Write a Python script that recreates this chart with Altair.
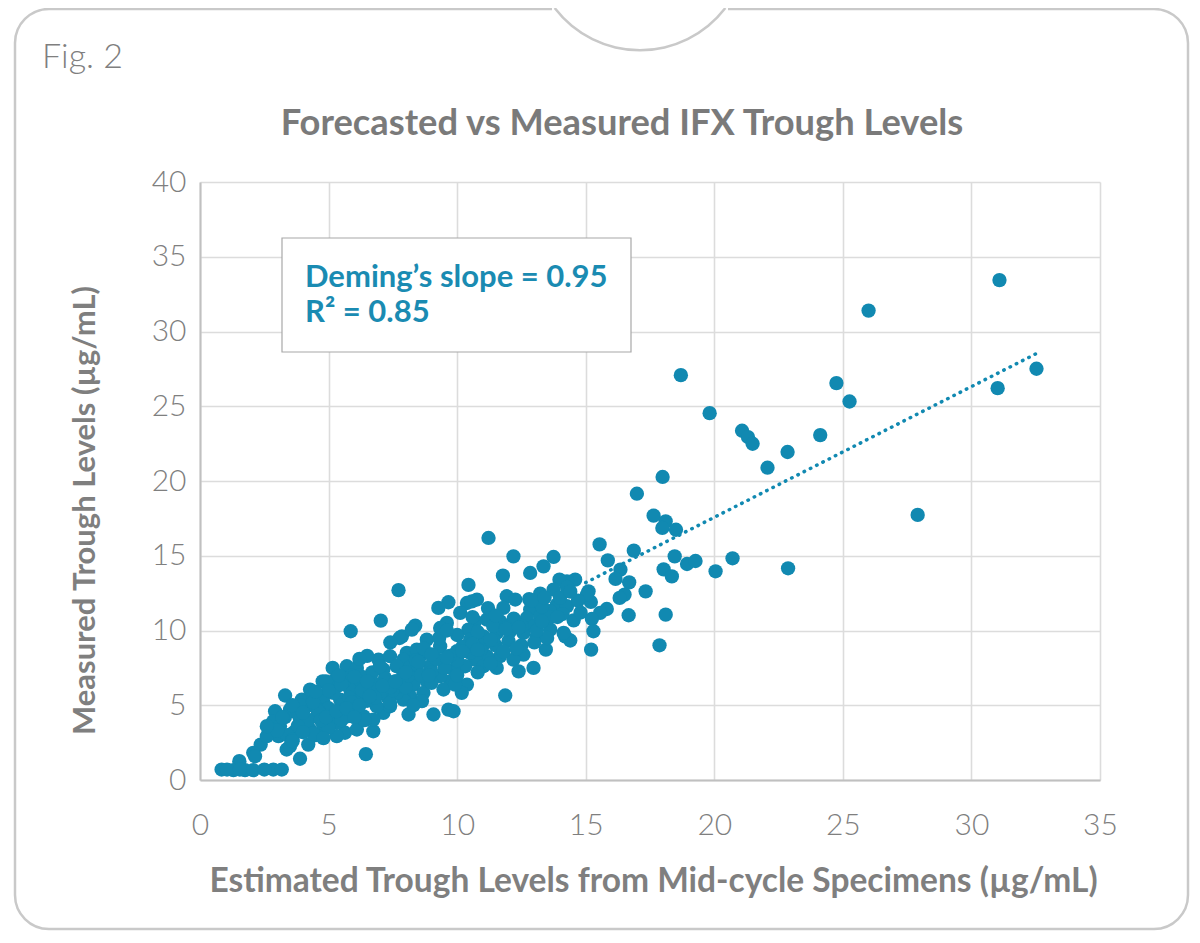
import math
import altair as alt
import pandas as pd

# ---------------- data ----------------
est = [
    18.70, 24.75, 19.82, 21.08, 21.31, 21.49, 24.12, 22.85, 22.07, 17.99,
    16.99, 17.64, 18.11, 17.98, 18.51, 15.54, 16.87, 15.86, 18.46, 18.94,
    19.27, 20.71, 20.05, 22.87, 18.03, 18.35, 16.35, 16.16, 16.69, 17.33,
    16.51, 16.32, 14.59, 14.27, 15.11, 15.20, 15.82, 15.56, 15.24, 14.53,
    16.67, 18.11, 15.30, 14.20, 14.40, 15.21, 17.87, 14.00, 31.09, 26.00,
    25.26, 31.02, 32.53, 27.91,
    11.22, 12.19, 13.75, 13.36, 12.84, 11.78, 10.44, 13.98, 14.27, 13.75,
    13.23, 15.05, 11.93, 12.26, 10.77, 10.38, 9.66, 9.27, 10.12, 11.80,
    12.84, 13.23, 13.88, 14.27, 13.75, 13.23, 12.71, 12.26, 11.67, 11.16,
    10.70, 10.44, 9.60, 9.34, 8.37, 7.85, 8.82, 9.34, 9.99, 10.51,
    11.02, 11.54, 12.06, 12.58, 13.10, 13.62, 14.14, 13.45, 12.58, 12.19,
    11.67, 11.16, 10.70, 12.97, 12.39, 11.54, 11.02, 10.31, 9.86, 10.38,
    10.18, 9.73, 11.87, 9.66, 9.86, 9.08, 8.11, 9.08, 8.56, 8.04,
    8.95, 8.43, 7.91, 9.34, 8.82, 8.30, 9.47, 8.69, 8.17, 8.63,
    7.72,
    7.03, 5.86, 7.76, 8.24, 5.16, 5.71, 6.10, 6.94, 7.39, 7.91,
    4.77, 5.32, 3.31, 3.96, 4.41, 2.92, 2.85, 3.05, 2.36, 2.07,
    1.53, 0.84, 1.30, 1.75, 2.07, 2.85, 3.18, 3.89, 6.45, 6.74,
    7.13, 5.64, 5.32, 6.10, 3.37, 3.63, 4.28, 4.80, 3.89, 4.54,
    5.06, 3.50, 4.15, 4.80, 5.45, 6.10, 6.74, 7.39, 7.91, 6.10,
    6.61, 7.13, 7.65, 4.28, 3.76, 3.11, 2.60, 7.39, 7.91, 6.87,
    6.36, 5.71, 5.32, 6.74, 7.65, 7.26, 5.84, 5.19, 4.80,
    4.21, 2.14, 1.05, 1.55, 2.50, 8.43, 7.39, 3.50, 10.57, 9.92,
    5.5, 6.0, 6.5, 7.0, 6.3, 5.8, 5.0, 4.6, 4.2, 3.8,
    3.4, 4.5, 5.0, 5.5, 7.5, 8.0, 9.0, 9.5, 10.0, 10.5,
    11.0, 11.5, 12.0, 12.5, 13.0, 13.5, 9.0, 10.0, 10.8, 11.3,
    11.8, 12.3, 8.7, 9.3, 10.0, 10.8, 11.4, 12.2, 13.0, 13.6,
    14.0, 14.7, 14.8, 7.2, 6.7, 8.2, 6.5, 7.0,
    3.0, 3.6, 4.0, 4.4, 4.9, 5.3, 5.9, 6.4, 6.9, 7.6,
    8.1, 8.6, 9.2, 9.7, 10.2, 10.9, 11.4, 11.9, 12.5, 13.1,
    13.6, 14.1, 2.6, 3.3, 4.7, 5.6, 6.2, 6.8, 7.4, 8.4,
    8.9, 9.6, 10.6, 11.2, 12.8, 13.3, 14.4, 3.9, 4.9, 5.9,
    3.2, 3.6, 4.0, 4.4, 4.9, 5.3, 5.7, 6.2, 6.6, 5.0,
    5.5, 6.0, 6.5, 7.1, 7.6, 8.0, 8.5, 9.0, 9.6, 10.2,
    10.8, 11.3, 11.9, 12.4, 13.3, 13.9, 12.9, 13.4, 11.5, 10.6,
    7.4, 6.2, 5.4, 4.5, 4.0, 4.8, 6.0, 8.3, 3.6,
]
meas = [
    27.08, 26.55, 24.54, 23.36, 22.94, 22.49, 23.07, 21.94, 20.89, 20.27,
    19.15, 17.68, 17.30, 16.86, 16.74, 15.76, 15.34, 14.69, 14.96, 14.45,
    14.65, 14.83, 13.96, 14.16, 14.09, 13.62, 14.07, 13.45, 13.22, 12.62,
    12.40, 12.18, 13.40, 13.29, 12.62, 11.91, 11.44, 11.18, 10.78, 10.68,
    11.02, 11.06, 9.95, 9.61, 9.33, 8.72, 9.01, 11.60, 33.44, 31.40,
    25.32, 26.21, 27.51, 17.73,
    16.19, 14.96, 14.92, 14.29, 13.85, 13.67, 13.05, 13.40, 12.91, 12.73,
    12.47, 12.40, 12.29, 12.07, 12.07, 11.84, 11.89, 11.51, 11.18, 11.51,
    11.40, 11.84, 11.73, 11.62, 10.95, 10.95, 10.84, 10.51, 10.62, 10.73,
    10.62, 10.06, 10.51, 10.17, 10.33, 9.61, 9.39, 8.94, 8.61, 9.39,
    9.61, 9.84, 9.95, 9.84, 9.61, 10.06, 9.84, 8.72, 8.39, 8.05,
    8.28, 8.28, 8.05, 7.50, 7.27, 7.50, 7.61, 7.61, 7.39, 6.38,
    5.83, 6.60, 5.65, 4.71, 4.60, 4.38, 4.38, 8.05, 8.28, 8.50,
    7.61, 7.39, 7.17, 6.94, 6.60, 6.38, 6.05, 5.83, 5.60, 5.27,
    12.70,
    10.66, 9.95, 9.50, 10.06, 7.50, 7.61, 7.50, 8.05, 8.28, 8.05,
    6.60, 6.27, 5.65, 5.38, 5.60, 4.60, 3.93, 2.93, 2.37, 1.82,
    1.26, 0.70, 0.66, 0.66, 0.66, 0.70, 0.70, 1.42, 1.73, 3.26,
    4.49, 3.16, 2.93, 3.38, 2.04, 3.16, 3.38, 3.60, 4.04, 4.26,
    4.49, 4.71, 4.93, 5.16, 5.38, 5.60, 6.05, 6.50, 6.94, 6.50,
    6.94, 7.39, 7.61, 6.05, 4.49, 3.60, 2.93, 4.93, 5.38, 4.93,
    4.26, 4.26, 3.82, 4.04, 5.83, 5.60, 6.05, 5.83, 5.60,
    2.37, 1.59, 0.70, 0.70, 0.70, 8.72, 5.16, 2.26, 11.95, 6.38,
    5.0, 4.8, 5.3, 5.8, 6.0, 5.5, 4.8, 4.6, 4.0, 3.6,
    3.0, 3.0, 3.5, 4.0, 6.0, 6.2, 7.2, 7.5, 8.0, 8.5,
    9.0, 9.0, 9.3, 9.0, 9.2, 9.5, 6.5, 7.0, 7.2, 7.8,
    8.6, 8.8, 8.8, 9.5, 9.7, 9.9, 10.3, 10.8, 10.3, 11.3,
    12.2, 12.0, 11.2, 6.8, 7.2, 7.6, 8.3, 7.6,
    3.3, 2.7, 4.6, 3.1, 4.2, 6.8, 5.2, 4.0, 6.4, 6.6,
    7.0, 7.0, 8.1, 8.3, 8.9, 8.7, 9.4, 10.2, 10.3, 10.0,
    10.9, 11.1, 3.6, 4.2, 4.0, 6.6, 7.0, 5.5, 6.2, 8.0,
    7.0, 10.0, 9.1, 11.5, 12.1, 11.6, 12.6, 5.0, 6.6, 7.0,
    4.2, 5.0, 4.5, 5.2, 4.2, 4.6, 4.8, 5.0, 5.6, 6.0,
    6.4, 6.9, 6.6, 6.3, 6.6, 7.2, 7.9, 8.4, 8.2, 8.6,
    8.7, 9.4, 10.1, 10.2, 10.6, 10.9, 12.0, 12.2, 11.0, 10.9,
    9.2, 8.1, 7.0, 5.9, 3.2, 2.8, 4.2, 5.0, 2.6,
]
trend_x = [15.0, 32.5]
trend_y = [13.2, 28.5]
x_ticks = [0, 5, 10, 15, 20, 25, 30, 35]
y_ticks = [0, 5, 10, 15, 20, 25, 30, 35, 40]

points = pd.DataFrame({"est": est, "meas": meas})
trend = pd.DataFrame({"est": trend_x, "meas": trend_y})
one = alt.Data(values=[{"k": 1}])

BLUE = "#1189b1"
GRAY = "#7f7f7f"
FONT = "Lato"

xscale = alt.Scale(domain=[0, 35], nice=False, zero=False)
yscale = alt.Scale(domain=[0, 40], nice=False, zero=False)

xaxis = alt.Axis(
    title="Estimated Trough Levels from Mid-cycle Specimens (µg/mL)",
    values=x_ticks, grid=True, ticks=False, labelFlush=False,
    labelFont=FONT, labelFontSize=30, labelFontWeight=300, labelColor=GRAY,
    labelPadding=30,
    titleFont=FONT, titleFontSize=33.5, titleFontWeight="bold", titleColor=GRAY,
    titleX=453, titleY=111, titleBaseline="alphabetic", titleAlign="center",
)
yaxis = alt.Axis(
    title="Measured Trough Levels (µg/mL)",
    values=y_ticks, grid=True, ticks=False, labelFlush=False,
    labelFont=FONT, labelFontSize=30, labelFontWeight=300, labelColor=GRAY,
    labelPadding=14,
    titleFont=FONT, titleFontSize=31, titleFontWeight="bold", titleColor=GRAY,
    titleX=-106, titleY=328, titleBaseline="alphabetic", titleAlign="center",
)

# decorations (outer card frame with notch, figure label, title)
frame = alt.Chart(one).mark_rect(
    fillOpacity=0, stroke="#c9c9c9", strokeWidth=2.5, cornerRadius=34
).encode(x=alt.value(-185), x2=alt.value(988), y=alt.value(-173), y2=alt.value(747))
notch_cover = alt.Chart(one).mark_rect(fill="white").encode(
    x=alt.value(352), x2=alt.value(528), y=alt.value(-178), y2=alt.value(-168)
)
notch = alt.Chart(one).mark_arc(
    fill="#c9c9c9", radius=108.5, radius2=106, theta=math.pi - 0.92, theta2=math.pi + 0.92
).encode(x=alt.value(440), y=alt.value(-239))
fig_label = alt.Chart(one).mark_text(
    text="Fig. 2", font=FONT, fontSize=34, fontWeight=300, color=GRAY,
    align="left", baseline="alphabetic"
).encode(x=alt.value(-158), y=alt.value(-114))
title = alt.Chart(one).mark_text(
    text="Forecasted vs Measured IFX Trough Levels", font=FONT, fontSize=36.3,
    fontWeight="bold", color="#7a7a7a", align="center", baseline="alphabetic"
).encode(x=alt.value(422), y=alt.value(-47))

# scatter
scatter = alt.Chart(points).mark_circle(size=205, color=BLUE, opacity=1).encode(
    x=alt.X("est:Q", scale=xscale, axis=xaxis),
    y=alt.Y("meas:Q", scale=yscale, axis=yaxis),
)
trend_line = alt.Chart(trend).mark_line(
    color=BLUE, strokeWidth=3.5, strokeDash=[0.5, 6.5], strokeCap="round"
).encode(x=alt.X("est:Q", scale=xscale), y=alt.Y("meas:Q", scale=yscale))

# annotation box
box = alt.Chart(one).mark_rect(fill="white", stroke="#a8a8a8", strokeWidth=1.2).encode(
    x=alt.value(82), x2=alt.value(431), y=alt.value(56), y2=alt.value(170)
)
ann1 = alt.Chart(one).mark_text(
    text="Deming’s slope = 0.95", font=FONT, fontSize=31, fontWeight="bold",
    color="#1a8bb2", align="left", baseline="alphabetic"
).encode(x=alt.value(105), y=alt.value(105))
ann2 = alt.Chart(one).mark_text(
    text="R² = 0.85", font=FONT, fontSize=31, fontWeight="bold",
    color="#1a8bb2", align="left", baseline="alphabetic"
).encode(x=alt.value(105), y=alt.value(140))

chart = alt.layer(
    frame, notch_cover, notch, fig_label, title, scatter, trend_line, box, ann1, ann2
).properties(
    width=900, height=598,
    autosize=alt.AutoSizeParams(type="none"),
    padding={"left": 192, "top": 174, "right": 90, "bottom": 151},
    background="white",
).configure_view(strokeWidth=0).configure_axis(
    gridColor="#dcdcdc", gridWidth=1.6, domainColor="#c0c0c0", domainWidth=2
)

chart.save("out.html", embed_options={"renderer": "svg", "actions": False})
